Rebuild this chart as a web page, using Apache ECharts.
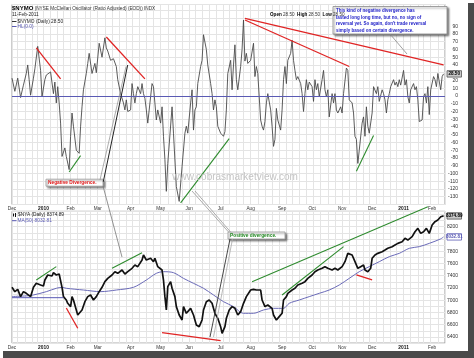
<!DOCTYPE html>
<html><head><meta charset="utf-8">
<script src="https://cdn.jsdelivr.net/npm/echarts@6/dist/echarts.min.js"></script>
<style>html,body{margin:0;padding:0;background:#fff}#c{width:474px;height:358px}</style>
</head><body><div id="c"></div>
<script>
// ---------- categories / tick labels ----------
const holidays = ['2009-12-25','2010-01-01','2010-01-18','2010-02-15','2010-04-02','2010-05-31','2010-07-05','2010-09-06','2010-11-25','2010-12-24','2011-01-17'];
const monthLabels = ['Dec','2010','Feb','Mar','Apr','May','Jun','Jul','Aug','Sep','Oct','Nov','Dec','2011','Feb'];
const boldLabels = ['2010','2011'];
const upperLabels = [90,80,70,60,50,40,30,20,10,0,-10,-20,-30,-40,-50,-60,-70,-80,-90,-100,-110,-120,-130];
const lowerLabels = [8200,8000,7800,7600,7400,7200,7000,6800,6600,6400];

// ---------- $NYMO (McClellan oscillator), trading-day index / value ----------
const nymoDay = [0,2,4,6,8,10,11,12,13,15,16,18,20,21,23,24,27,28,29,30,31,32,33,34,35,37,38,40,41,42,43,45,46,47,48,49,50,52,53,54,56,58,59,61,63,65,66,67,69,71,73,74,76,78,79,80,81,83,84,85,86,87,88,90,91,92,93,94,95,97,98,99,100,101,102,104,105,106,107,108,109,112,113,115,117,119,120,121,122,123,125,126,127,128,129,130,132,133,134,136,137,139,140,141,142,143,144,146,148,149,150,151,153,154,155,156,157,158,160,161,162,163,164,165,167,169,170,171,172,174,175,176,177,178,179,181,182,183,184,185,186,188,189,190,191,192,193,195,196,197,198,199,200,202,203,204,205,206,207,208,210,211,212,213,214,215,217,218,219,220,221,222,224,225,226,227,228,230,231,232,233,234,235,236,238,239,240,241,242,243,245,246,247,248,249,250,252,253,254,255,256,257,259,260,261,262,263,264,265,267,268,269,270,271,272,274,275,276,277,278,279,281,282,283,284,285,287,288,289,290,291,292,293,295,296,297,298,300,301,302];
const nymoVal = [23,6,23,-2,14,29,40,21,1,23,35,64,33,-1,21,27,31,33,3,18,-9,12,-9,-35,-78,-67,-78,-95,-52,-22,-39,-70,-72,-74,-39,-14,8,29,42,55,29,42,30,68,50,75,62,58,46,48,38,21,3,-9,-18,-5,-20,-18,16,3,-9,3,12,3,16,3,-3,-18,-35,-1,16,12,-9,-31,-18,-35,-14,-52,-82,-123,-87,-14,-48,-117,-136,-91,-91,-48,-39,-48,-9,8,-44,-18,-14,16,38,46,79,60,40,16,3,-18,-5,-14,-39,-48,-52,-46,-18,29,46,8,40,66,21,8,38,60,98,45,55,42,46,68,25,38,29,-31,-39,-44,-33,-9,3,-18,-39,-65,-56,-16,-31,-44,-18,21,38,16,46,55,72,46,33,21,25,16,3,-20,3,21,8,18,12,-7,21,8,16,-1,21,33,8,-1,8,-27,3,-9,3,-18,-22,-14,-22,3,1,36,33,-5,-9,-22,-52,-56,-87,-70,-35,-27,-52,-14,-39,-48,-22,12,14,3,12,-7,8,3,-5,-22,-5,3,12,21,14,18,12,21,14,33,14,21,-1,-9,8,16,8,12,-5,-33,-31,-1,3,-9,12,-24,8,25,21,12,29,8,25,28.5];

// ---------- $NYA close ----------
const nyaDay = [0,2,4,6,8,10,13,15,17,20,22,23,25,28,29,31,33,35,36,38,39,41,42,43,45,46,49,51,53,55,57,59,61,63,65,67,70,72,74,77,79,81,84,86,88,91,92,94,97,99,100,102,105,106,107,108,109,111,112,114,115,117,119,120,122,125,127,129,131,133,134,136,138,140,142,144,146,147,149,150,152,154,156,158,160,162,164,167,169,171,174,175,177,179,182,183,185,187,189,190,192,193,196,198,200,203,205,207,210,212,214,217,219,221,224,226,228,231,233,235,236,238,240,242,244,246,247,249,251,252,254,256,259,261,263,266,268,270,273,275,277,280,282,284,286,288,290,292,294,296,298,300,302];
const nyaVal = [7210,7139,7177,7058,7139,7112,7058,7210,7275,7248,7232,7329,7411,7394,7449,7411,7427,7210,7058,7003,6949,6895,7058,7003,6840,6759,6840,6976,7058,7085,7003,7058,7139,7210,7302,7356,7411,7465,7438,7492,7427,7465,7520,7574,7547,7655,7737,7655,7683,7628,7683,7547,7492,7329,7058,6840,7220,7302,7194,7058,6895,6759,6677,6895,6786,6867,6759,6596,6568,6677,6840,6976,7003,6949,6786,6704,6568,6460,6568,6704,6840,6895,6867,6759,6813,6949,7058,7166,7177,7166,7166,7003,6895,6922,6867,6759,6677,6732,6786,7003,7058,7112,7166,7194,7248,7275,7302,7356,7411,7465,7492,7520,7547,7520,7492,7520,7492,7547,7628,7764,7791,7737,7628,7520,7547,7574,7492,7465,7520,7683,7737,7764,7791,7818,7846,7873,7900,7927,7954,8009,7981,8036,8117,8172,8090,8117,8172,8090,8226,8281,8308,8362,8374.89];

// ---------- MA(50) ----------
const maDay = [0,10,15,24,31,35,38,50,62,73,85,94,101,106,113,120,127,134,141,148,155,162,169,176,183,190,194,201,208,215,222,229,236,243,250,257,264,271,278,285,292,300,302];
const maVal = [7060,7070,7085,7139,7194,7210,7194,7166,7139,7166,7210,7329,7438,7465,7449,7356,7275,7194,7085,6976,6895,6786,6786,6840,6867,6867,6949,7003,7058,7112,7166,7248,7356,7465,7547,7628,7710,7764,7846,7873,7927,8000,8032.81];

// ---------- hand-drawn trend lines [day, value, day, value] ----------
const upperRed = [[17,62,34,22],[66,76,93,22],[163,100,302,40],[163,98,236,38]];
const upperGreen = [[40,-98,48,-77],[118,-138,152,-55],[241,-97,253,-51]];
const lowerRed = [[38,6873,46,6542],[105,6470,146,6340],[241,7411,252,7330]];
const lowerGreen = [[17,7330,31,7547],[70,7521,91,7775],[168,7302,291,8526],[189,7085,232,7873]];
const lowerBlue = [[0,7041,36,7041]];

// ---------- build trading-day categories ----------
const days = [];
{
  const d = new Date(Date.UTC(2009, 11, 1));
  while (days.length < 304) {
    const wd = d.getUTCDay(), s = d.toISOString().slice(0, 10);
    if (wd !== 0 && wd !== 6 && !holidays.includes(s)) days.push(s);
    d.setUTCDate(d.getUTCDate() + 1);
  }
}
const monthIdx = new Set(), weekIdx = new Set(), labelOf = {};
let mk = 0;
days.forEach((s, i) => {
  if (i === 0 || s.slice(5, 7) !== days[i - 1].slice(5, 7)) { monthIdx.add(i); labelOf[s] = monthLabels[mk++] || ''; }
  if (i === 0 || new Date(s).getUTCDay() < new Date(days[i - 1]).getUTCDay()) weekIdx.add(i);
});

const FONT = '"Liberation Sans", Arial, sans-serif';
const zip = (a, b) => a.map((x, i) => [x, b[i]]);

function xAxisCfg(gi) {
  return {
    type: 'category', gridIndex: gi, data: days, boundaryGap: false,
    axisLine: { show: false }, axisTick: { show: false },
    axisLabel: {
      interval: (i) => monthIdx.has(i),
      formatter: (v) => { const l = labelOf[v] || ''; return boldLabels.includes(l) ? '{b|' + l + '}' : l; },
      fontSize: 4.7, color: '#333', margin: 2, fontFamily: FONT, showMinLabel: true,
      rich: { b: { fontWeight: 'bold', fontSize: 4.9, color: '#111', fontFamily: FONT } }
    },
    splitLine: { show: true, interval: (i) => weekIdx.has(i), lineStyle: { color: '#e4e4e4', width: 1 } }
  };
}
function yAxisCfg(gi, min, max, interval, labels) {
  return {
    type: 'value', gridIndex: gi, position: 'right', min, max, interval, scale: true,
    axisLine: { show: false }, axisTick: { show: false },
    splitLine: { lineStyle: { color: '#e4e4e4', width: 1 } },
    axisLabel: { formatter: (v) => labels.includes(v) ? String(v) : '', fontSize: 5, color: '#333', margin: 13, align: 'right', fontFamily: FONT }
  };
}
function segSeries(list, gi, color, width) {
  return list.map(s => ({
    type: 'line', xAxisIndex: gi, yAxisIndex: gi, data: [[s[0], s[1]], [s[2], s[3]]],
    showSymbol: false, symbol: 'none', silent: true, clip: false, z: 5,
    lineStyle: { color, width }
  }));
}

const chart = echarts.init(document.getElementById('c'));
chart.setOption({
  animation: false,
  backgroundColor: '#fff',
  grid: [
    { left: 12, right: 29, top: 4.5, height: 200, show: true, borderColor: '#9a9a9a', borderWidth: 1 },
    { left: 12, right: 29, top: 211.3, height: 131.8, show: true, borderColor: '#9a9a9a', borderWidth: 1 }
  ],
  xAxis: [xAxisCfg(0), xAxisCfg(1)],
  yAxis: [yAxisCfg(0, -140, 118, 10, upperLabels), yAxisCfg(1, 6300, 8450, 100, lowerLabels)],
  series: [
    {
      type: 'line', xAxisIndex: 0, yAxisIndex: 0, data: zip(nymoDay, nymoVal), showSymbol: false, symbol: 'none', z: 3,
      lineStyle: { color: '#4a4a4a', width: 0.9 },
      markLine: { silent: true, symbol: 'none', label: { show: false }, lineStyle: { color: '#5a5ab4', type: 'solid', width: 1 }, data: [{ yAxis: 0 }] }
    },
    { type: 'line', xAxisIndex: 1, yAxisIndex: 1, data: zip(maDay, maVal), showSymbol: false, symbol: 'none', z: 2, smooth: 0.3, lineStyle: { color: '#6a6ab8', width: 1 } },
    { type: 'line', xAxisIndex: 1, yAxisIndex: 1, data: zip(nyaDay, nyaVal), showSymbol: false, symbol: 'none', z: 3, lineStyle: { color: '#111', width: 1.7 } },
    ...segSeries(upperRed, 0, '#e02424', 1.3),
    ...segSeries(upperGreen, 0, '#2e8b2e', 1.1),
    ...segSeries(lowerRed, 1, '#e02424', 1.3),
    ...segSeries(lowerGreen, 1, '#2e8b2e', 1.1),
    ...segSeries(lowerBlue, 1, '#5a5ab4', 1)
  ]
});

// ---------- annotations ----------
const y28 = chart.convertToPixel({ yAxisIndex: 0 }, 28.5);
const yNya = chart.convertToPixel({ yAxisIndex: 1 }, nyaVal[nyaVal.length - 1]);
const yMa = chart.convertToPixel({ yAxisIndex: 1 }, maVal[maVal.length - 1]);
const T = (x, y, text, font, fill, extra) => ({ type: 'text', z: 100, style: Object.assign({ x, y, text, font, fill, verticalAlign: 'middle' }, extra || {}) });
const L = (x1, y1, x2, y2, stroke, w) => ({ type: 'line', z: 99, shape: { x1, y1, x2, y2 }, style: { stroke, lineWidth: w || 0.8 } });
const R = (x, y, w, h, fill, stroke, shadow) => ({ type: 'rect', z: 98, shape: { x, y, width: w, height: h }, style: Object.assign({ fill, stroke, lineWidth: 0.8 }, shadow ? { shadowBlur: 2, shadowOffsetX: 1.5, shadowOffsetY: 1.5, shadowColor: 'rgba(0,0,0,0.45)' } : {}) });
const blueTxt = '#2323c8';
const valBox = (y, text, fill, stroke, color) => [R(447, y - 3.2, 14.5, 6.4, fill, stroke), T(454.2, y, text, 'bold 4.6px ' + FONT, color, { align: 'center' })];

chart.setOption({
  graphic: [
    // frame shadow
    { type: 'rect', z: 90, shape: { x: 468, y: 3, width: 6, height: 355 }, style: { fill: '#4a4a4a' } },
    { type: 'rect', z: 90, shape: { x: 3, y: 351, width: 471, height: 7 }, style: { fill: '#4a4a4a' } },
    // upper header
    T(12, 8.6, '{b|$NYMO} (NYSE McClellan Oscillator (Ratio Adjusted) (EOD)) INDX', '4.7px ' + FONT, '#333', { rich: { b: { font: 'bold 6px ' + FONT, fill: '#000' } } }),
    T(12, 15, '11-Feb-2011', '4.8px ' + FONT, '#222'),
    L(12, 21.5, 16.5, 21.5, '#333', 1),
    T(17.5, 21.5, '$NYMO (Daily) 28.50', '4.8px ' + FONT, '#222'),
    L(12, 26.5, 16.5, 26.5, '#5a5ab4', 1),
    T(17.5, 26.5, 'HL(0.0)', '4.8px ' + FONT, '#5a5ab4'),
    T(270, 15.2, '{b|Open} 28.50  {b|High} 28.50  {b|Low} 28.50', '4.6px ' + FONT, '#333', { rich: { b: { font: 'bold 4.6px ' + FONT, fill: '#000' } } }),
    // upper right comment box
    L(390, 34, 407, 54, '#888', 0.8),
    R(333, 6.5, 114, 27.5, '#fff', '#8a8a8a', true),
    T(336, 11, 'This kind of negative divergence has', 'bold 4.5px ' + FONT, blueTxt),
    T(336, 17.5, 'lasted long long time, but no, no sign of', 'bold 4.5px ' + FONT, blueTxt),
    T(336, 24, 'reversal yet. So again, don\'t trade reversal', 'bold 4.5px ' + FONT, blueTxt),
    T(336, 30.5, 'simply based on certain divergence.', 'bold 4.5px ' + FONT, blueTxt),
    // watermark
    T(235, 177, 'www.cobrasmarketview.com', '10px ' + FONT, '#c4c4c4', { align: 'center' }),
    // negative divergence callout
    L(100, 180, 126, 66.5, '#999', 0.8),
    L(103.3, 181.7, 127.7, 65, '#222', 1),
    L(103, 186, 122, 257, '#777', 0.8),
    R(46, 179.2, 57, 7, '#fff', '#999', true),
    T(48, 182.7, 'Negative Divergence.', 'bold 4.8px ' + FONT, '#e01818'),
    // positive divergence callout
    L(192, 191, 229, 232.5, '#999', 0.8),
    L(195, 191, 231, 232.5, '#999', 0.8),
    L(230, 239, 210, 337, '#333', 0.9),
    L(232.5, 239, 213.5, 337, '#aaa', 0.8),
    R(228, 232, 57, 7, '#fff', '#999', true),
    T(230, 235.5, 'Positive divergence.', 'bold 4.8px ' + FONT, '#238a23'),
    // lower header
    L(13.5, 213.5, 13.5, 216.5, '#111', 1), L(15.5, 213, 15.5, 217, '#111', 1),
    T(18, 215, '$NYA (Daily) 8374.89', '4.8px ' + FONT, '#222'),
    L(12, 220.7, 16.5, 220.7, '#5a5ab4', 1),
    T(17.5, 220.7, 'MA(50) 8032.81', '4.8px ' + FONT, '#5a5ab4'),
    // last-value boxes
    ...valBox(y28, '28.50', '#c8c8c8', '#555', '#000'),
    ...valBox(yNya, '8374.89', '#c8c8c8', '#555', '#000'),
    ...valBox(yMa, '8032.81', '#fff', '#5a5ab4', '#5a5ab4')
  ]
});
</script>
</body></html>
